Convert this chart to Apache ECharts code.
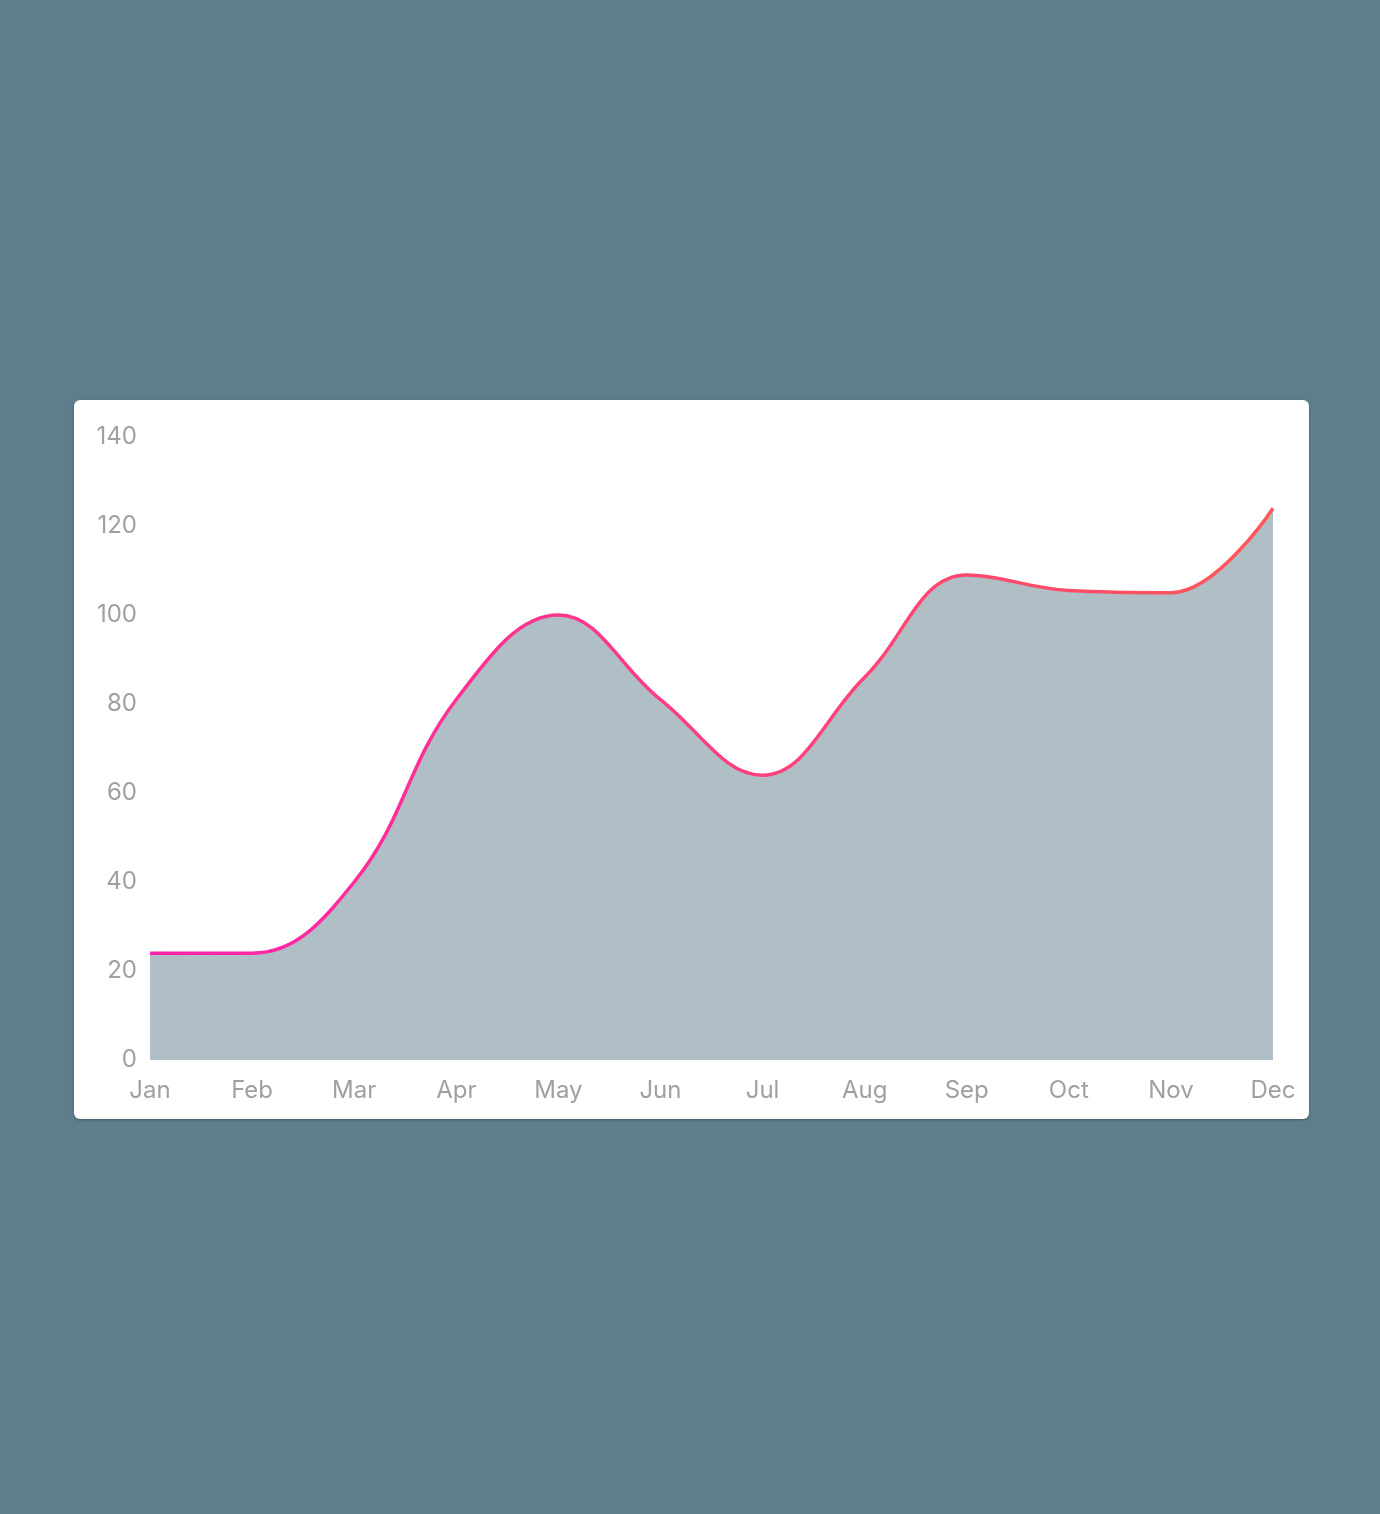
<!DOCTYPE html>
<html>
<head>
<meta charset="utf-8">
<script src="https://cdn.jsdelivr.net/npm/echarts@6/dist/echarts.min.js"></script>
<style>
  html, body { margin: 0; padding: 0; width: 1380px; height: 1514px; background: #607d8b; overflow: hidden; }
  #card { position: absolute; left: 74px; top: 400px; width: 1235px; height: 719px; background: #ffffff; border-radius: 6px; box-shadow: 0 1px 3px rgba(0,0,0,0.25); }
  #chart { width: 100%; height: 100%; }
</style>
</head>
<body>
<div id="card"><div id="chart"></div></div>
<script>
const categories = ['Jan','Feb','Mar','Apr','May','Jun','Jul','Aug','Sep','Oct','Nov','Dec'];
const values = [24, 24, 40, 81, 100, 81, 64, 86, 109, 105.5, 105, 124];
const yTicks = { min: 0, max: 140, interval: 20 };

const labelFont = 'Inter, "Noto Sans", Roboto, sans-serif';
const chart = echarts.init(document.getElementById('chart'));
chart.setOption({
  animation: false,
  grid: { left: 76, right: 36, top: 37, bottom: 59 },
  xAxis: {
    type: 'category',
    data: categories,
    boundaryGap: false,
    axisLine: { show: false },
    axisTick: { show: false },
    axisLabel: { color: '#a0a0a0', fontSize: 24, fontFamily: labelFont, margin: 19 }
  },
  yAxis: {
    type: 'value',
    min: yTicks.min, max: yTicks.max, interval: yTicks.interval,
    splitLine: { show: false },
    axisLine: { show: false },
    axisTick: { show: false },
    axisLabel: { color: '#a0a0a0', fontSize: 24, fontFamily: labelFont, margin: 13, padding: [5, 0, 0, 0] }
  },
  series: [{
    type: 'line',
    data: values,
    smooth: 0.4,
    symbol: 'none',
    lineStyle: {
      width: 3.5,
      color: new echarts.graphic.LinearGradient(0, 0, 1, 0, [
        { offset: 0, color: '#ff22ad' },
        { offset: 1, color: '#ff5858' }
      ])
    },
    areaStyle: { color: '#b0bec5', opacity: 1 }
  }]
});
</script>
</body>
</html>
